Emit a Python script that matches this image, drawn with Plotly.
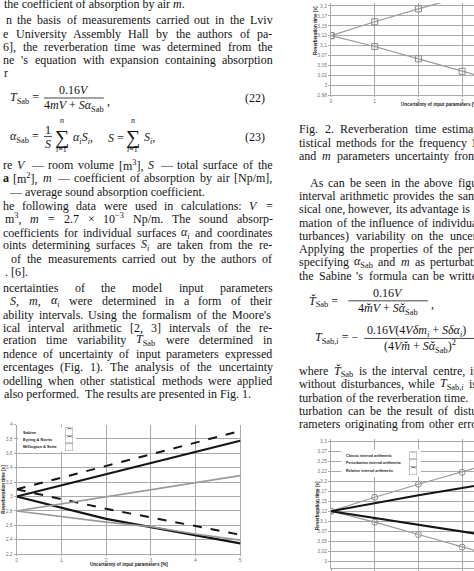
import re
import plotly.graph_objects as go

W, H = 474, 571
SERIF = "Liberation Serif, DejaVu Serif, serif"
SANS = "Liberation Sans, Arial, sans-serif"
FS = 12

# Fig. 1 - reverberation time vs uncertainty, three formulas
f1_unc = [0, 1, 2, 3, 4, 5]
sabine_hi = [3.10, 3.26, 3.42, 3.585, 3.75, 3.91]
sabine_lo = [3.10, 2.96, 2.83, 2.71, 2.59, 2.47]
eyring_hi = [3.00, 3.155, 3.31, 3.465, 3.62, 3.775]
eyring_lo = [3.00, 2.84, 2.69, 2.575, 2.46, 2.35]
millington_hi = [2.80, 2.90, 2.995, 3.09, 3.19, 3.29]
millington_lo = [2.80, 2.72, 2.645, 2.58, 2.48, 2.395]
f1_xticks = [0, 1, 2, 3, 4, 5]
f1_yticks = [2.2, 2.4, 2.6, 2.8, 3.0, 3.2, 3.4, 3.6, 3.8, 4.0]
f1_ylabels = ["2,2", "2,4", "2,6", "2,8", "3", "3,2", "3,4", "3,6", "3,8", "4"]

# Fig. 2 and Fig. 3 - interval arithmetic
f23_unc = [0, 1, 2, 3, 4]
classic_hi = [3.125, 3.16, 3.1925, 3.2225, 3.255]
classic_lo = [3.125, 3.0975, 3.0665, 3.035, 3.005]
relative_hi = [3.125, 3.145, 3.165, 3.183, 3.201]
relative_lo = [3.125, 3.108, 3.091, 3.074, 3.057]
f23_xticks = [0, 1, 2, 3]
f2_yticks = [2.975, 3.0, 3.025, 3.05, 3.075, 3.1, 3.125, 3.15, 3.175, 3.2]
f2_ylabels = ["2,98", "3", "3,02", "3,05", "3,07", "3,1", "3,12", "3,15", "3,17", "3,2"]
f3_yticks = [3.0, 3.025, 3.05, 3.075, 3.1, 3.125, 3.15, 3.175, 3.2, 3.225, 3.25, 3.275, 3.3]
f3_ylabels = ["3", "3,02", "3,05", "3,07", "3,1", "3,12", "3,15", "3,17", "3,2",
              "3,22", "3,25", "3,27", "3,3"]


def px(x):
    return x / W


def py(y):
    return 1 - y / H


# rough Times widths (1/1000 em), used to justify the text lines
TIMES_W = dict(zip("abcdefghijklmnopqrstuvwxyz",
                   [444, 500, 444, 500, 444, 333, 500, 500, 278, 278, 500, 278, 778,
                    500, 500, 500, 500, 333, 389, 278, 500, 500, 722, 500, 500, 444]))
TIMES_W.update(zip("ABCDEFGHIJKLMNOPQRSTUVWXYZ",
                   [722, 667, 667, 722, 611, 556, 722, 722, 333, 389, 722, 611, 889,
                    722, 722, 556, 722, 667, 556, 611, 722, 722, 944, 722, 722, 611]))
TIMES_W.update({c: 500 for c in "0123456789"})
TIMES_W.update({" ": 250, ",": 250, ".": 250, ":": 278, ";": 278, "-": 333, "(": 333,
                ")": 333, "[": 333, "]": 333, "'": 333, "/": 278, "=": 564, "+": 564,
                "×": 564, "−": 564, "—": 1000, "α": 520, "%": 833, "&": 778})


def text_width(s, size):
    w = 0.0
    scale = 1.0
    for part in re.split(r"(<[^>]+>)", s):
        if part.startswith("<"):
            if part.strip("</>") in ("sub", "sup"):
                scale = 1.0 if part.startswith("</") else 0.7
            continue
        for ch in part:
            if ch != "\u0306":
                w += TIMES_W.get(ch, 500) * scale
    return w * size / 1000


grid = "#a9a9a9"
tickfont = dict(family=SANS, size=5, color="#777")


def axis(domain, rng, vals, text, anchor, labels=True, ticklen=2):
    return dict(domain=domain, range=rng, tickvals=vals, ticktext=text,
                anchor=anchor, showgrid=True, gridcolor=grid, gridwidth=1,
                showline=True, linecolor=grid, linewidth=1, zeroline=False,
                ticks="outside", ticklen=ticklen, tickcolor=grid, tickfont=tickfont,
                showticklabels=labels, fixedrange=True)


fig = go.Figure()

# Fig. 1
black = "#151515"
gray = "#9a9a9a"
fig.add_trace(go.Scatter(x=f1_unc, y=sabine_hi, mode="lines", line=dict(color=black, width=2, dash="dash"), xaxis="x", yaxis="y"))
fig.add_trace(go.Scatter(x=f1_unc, y=sabine_lo, mode="lines", line=dict(color=black, width=2, dash="dash"), xaxis="x", yaxis="y"))
fig.add_trace(go.Scatter(x=f1_unc, y=eyring_hi, mode="lines", line=dict(color=black, width=2.2), xaxis="x", yaxis="y"))
fig.add_trace(go.Scatter(x=f1_unc, y=eyring_lo, mode="lines", line=dict(color=black, width=2.2), xaxis="x", yaxis="y"))
fig.add_trace(go.Scatter(x=f1_unc, y=millington_hi, mode="lines", line=dict(color=gray, width=1.6), xaxis="x", yaxis="y"))
fig.add_trace(go.Scatter(x=f1_unc, y=millington_lo, mode="lines", line=dict(color=gray, width=1.6), xaxis="x", yaxis="y"))

# Fig. 2
for ys in (classic_hi, classic_lo):
    fig.add_trace(go.Scatter(x=f23_unc, y=ys, mode="lines+markers",
                             line=dict(color=gray, width=1.2),
                             marker=dict(symbol="square-open", size=6, color="#8a8a8a", line=dict(width=1)),
                             xaxis="x2", yaxis="y2"))

# Fig. 3
for ys in (classic_hi, classic_lo):
    fig.add_trace(go.Scatter(x=f23_unc, y=ys, mode="lines+markers",
                             line=dict(color=gray, width=1.2),
                             marker=dict(symbol="circle-open", size=6, color="#8a8a8a", line=dict(width=1)),
                             xaxis="x3", yaxis="y3"))
for ys in (relative_hi, relative_lo):
    fig.add_trace(go.Scatter(x=f23_unc, y=ys, mode="lines",
                             line=dict(color=black, width=2),
                             xaxis="x3", yaxis="y3"))

f1_x0, f1_x1 = 15.7, 241
f23_x0 = 330.7
fig.update_layout(
    xaxis=axis([px(f1_x0), px(f1_x1)], [0, (f1_x1 - f1_x0) / 44.8], f1_xticks,
               [str(t) for t in f1_xticks], "y", ticklen=1),
    yaxis=axis([py(557), py(426)], [2.2, 4.0], f1_yticks, f1_ylabels, "x"),
    xaxis2=axis([px(f23_x0), 1], [0, (W - f23_x0) / 43.8], f23_xticks,
                [str(t) for t in f23_xticks], "y2", ticklen=1),
    yaxis2=axis([py(93), 1], [2.975, 3.2075], f2_yticks, f2_ylabels, "x2"),
    xaxis3=axis([px(f23_x0), 1], [0, (W - f23_x0) / 43.8], f23_xticks,
                [str(t) for t in f23_xticks], "y3", labels=False),
    yaxis3=axis([0, py(441)], [2.9826, 3.305], f3_yticks, f3_ylabels, "x3"),
)

ann = []
shapes = []


def txt(x, y, s, anchor="left", size=FS, family=SERIF, color="#141414", **kw):
    ann.append(dict(x=px(x), y=py(y), xref="paper", yref="paper", text=s,
                    showarrow=False, xanchor=anchor, yanchor="middle",
                    font=dict(family=family, size=size, color=color), **kw))


def justify(x0, x1, y, s):
    words = s.split()
    widths = [text_width(w, FS) for w in words]
    gap = (x1 - x0 - sum(widths)) / max(len(words) - 1, 1)
    x = x0
    for w, wd in zip(words, widths):
        txt(x, y, w, borderpad=0)
        x += wd + gap


def bar(x0, x1, y):
    shapes.append(dict(type="line", xref="paper", yref="paper", x0=px(x0), x1=px(x1),
                       y0=py(y), y1=py(y), line=dict(color="#141414", width=0.8)))


COL_R = 271
# left column: justified lines
left_just = [
    (4, 17, "n the basis of measurements carried out in the Lviv"),
    (1, 31, "e University Assembly Hall by the authors of pa-"),
    (1, 44, "6], the reverberation time was determined from the"),
    (1, 58, "ne 's equation with expansion containing absorption"),
    (1, 164, "re <i>V</i> — room volume [m<sup>3</sup>], <i>S</i> — total surface of the"),
    (1, 177, "<b>a</b> [m<sup>2</sup>], <i>m</i> — coefficient of absorption by air [Np/m],"),
    (1, 205, "he following data were used in calculations: <i>V</i> ="),
    (3, 218, "m<sup>3</sup>, <i>m</i> = 2.7 × 10<sup>−3</sup> Np/m. The sound absorp-"),
    (1, 232, "coefficients for individual surfaces <i>α<sub>i</sub></i> and coordinates"),
    (1, 245, "oints determining surfaces <i>S<sub>i</sub></i> are taken from the re-"),
    (9, 259, "of the measurements carried out by the authors of"),
    (1, 288, "ncertainties of the model input parameters"),
    (8, 301, "<i>S</i>, <i>m</i>, <i>α<sub>i</sub></i> were determined in a form of their"),
    (1, 315, "ability intervals. Using the formalism of the Moore's"),
    (1, 328, "ical interval arithmetic [2, 3] intervals of the re-"),
    (1, 341, "eration time variability <i>T</i><sub>Sab</sub> were determined in"),
    (1, 355, "ndence of uncertainty of input parameters expressed"),
    (1, 368, "ercentages (Fig. 1). The analysis of the uncertainty"),
    (1, 382, "odelling when other statistical methods were applied"),
]
for x, y, s in left_just:
    justify(x, COL_R, y, s)

# left column: paragraph ends
left_free = [
    (1, 1, "the coefficient of absorption by air <i>m</i>."),
    (1, 71, "r"),
    (6, 191, "— average sound absorption coefficient."),
    (2, 272, ". [6]."),
    (1, 395, "also performed.  The results are presented in Fig. 1."),
]
for x, y, s in left_free:
    txt(x, y, s)

# eq. (22)
txt(40, 96, "<i>T</i><sub>Sab</sub> =", anchor="right")
txt(73, 88, "0.16<i>V</i>", anchor="center")
bar(43, 103, 96)
txt(73, 104, "4<i>mV</i> + <i>Sα</i><sub>Sab</sub>", anchor="center")
txt(104, 99, ",")
txt(255, 96, "(22)", anchor="center")

# eq. (23)
txt(40, 135, "<i>α</i><sub>Sab</sub> =", anchor="right")
txt(47, 128, "1", anchor="center")
bar(43, 51, 135)
txt(47, 142, "<i>S</i>", anchor="center")
txt(61, 136, "∑", anchor="center", size=20)
txt(61, 119, "<i>n</i>", anchor="center", size=8)
txt(61, 148, "<i>i</i>=1", anchor="center", size=8)
txt(70, 136, "<i>α<sub>i</sub>S<sub>i</sub></i>,")
txt(105, 136, "<i>S</i> =")
txt(132, 136, "∑", anchor="center", size=20)
txt(132, 119, "<i>n</i>", anchor="center", size=8)
txt(132, 148, "<i>i</i>=1", anchor="center", size=8)
txt(141, 136, "<i>S<sub>i</sub></i>,")
txt(255, 135, "(23)", anchor="center")

# right column: lines run past the page edge, stretched so the cut matches
EDGE = 476
right_cut = [
    (298, 127, "Fig. 2. Reverberation time estimat"),
    (298, 141, "tistical methods for the frequency 1"),
    (298, 155, "and <i>m</i> parameters uncertainty from"),
    (309, 182, "As can be seen in the above figu"),
    (298, 195, "interval arithmetic provides the sam"),
    (298, 208, "sical one, however, its advantage is t"),
    (298, 222, "mation of the influence of individua"),
    (298, 235, "turbances) variability on the uncer"),
    (298, 249, "Applying the properties of the pert"),
    (298, 262, "specifying <i>α</i><sub>Sab</sub> and <i>m</i> as perturbati"),
    (298, 276, "the Sabine 's formula can be writte"),
    (298, 372, "where <i>T̆</i><sub>Sab</sub> is the interval centre, it"),
    (298, 385, "without disturbances, while <i>T</i><sub>Sab,<i>i</i></sub> is"),
    (298, 412, "turbation can be the result of distu"),
    (298, 425, "rameters originating from other erro"),
]
for x, y, s in right_cut:
    justify(x, EDGE, y, s)
justify(298, 467, 399, "turbation of the reverberation time.")

# breve equations
txt(340, 301, "<i>T̆</i><sub>Sab</sub> =", anchor="right")
txt(388, 293, "0.16<i>V</i>", anchor="center")
bar(348, 428, 301)
txt(388, 309, "4<i>m̆V</i> + <i>Sᾰ</i><sub>Sab</sub>", anchor="center")
txt(429, 304, ",")
txt(360, 339, "<i>T</i><sub>Sab,<i>i</i></sub> = −", anchor="right")
txt(365, 331, "0.16<i>V</i>(4<i>Vδm<sub>i</sub></i> + <i>Sδα<sub>i</sub></i>)")
bar(364, 490, 339)
txt(420, 347, "(4<i>Vm̆</i> + <i>Sᾰ</i><sub>Sab</sub>)<sup>2</sup>", anchor="center")

# chart titles and legends
lab = dict(family=SANS, color="#222")
txt(128, 567, "<b>Uncertainty of input parameters [%]</b>", anchor="center", size=4.6, **lab)
txt(440, 103, "<b>Uncertainty of input parameters [%]</b>", anchor="center", size=4.6, **lab)
txt(3, 491, "<b>Reverberation time [s]</b>", anchor="center", size=4.6, textangle=-90, **lab)
txt(315, 28, "<b>Reverberation time [s]</b>", anchor="center", size=4.6, textangle=-90, **lab)
txt(317, 508, "<b>Reverberation time [s]</b>", anchor="center", size=4.6, textangle=-90, **lab)

shapes.append(dict(type="rect", xref="paper", yref="paper", x0=px(17), x1=px(75),
                   y0=py(453), y1=py(429), fillcolor="white", line=dict(width=0), layer="above"))
shapes.append(dict(type="rect", xref="paper", yref="paper", x0=px(341), x1=px(421),
                   y0=py(479), y1=py(451), fillcolor="white", line=dict(width=0), layer="above"))

for name, y, col in [("Sabine", 434, black), ("Eyring & Norris", 441.5, black),
                     ("Millington & Sette", 448.5, gray)]:
    txt(20, y, "<b>" + name + "</b>", size=4, **lab)
    txt(68, y - 0.5, "⌒", anchor="center", size=7, family="DejaVu Sans", color=col,
        bordercolor="#aaa", borderwidth=0.6, borderpad=0)

for name, y, col in [("Classic interval arithmetic", 457.5, gray),
                     ("Perturbation interval arithmetic", 465.3, "#bbb"),
                     ("Relative interval arithmetic", 473, black)]:
    txt(344, y, "<b>" + name + "</b>", size=3.7, **lab)
    txt(413, y - 0.5, "⌒", anchor="center", size=7, family="DejaVu Sans", color=col,
        bordercolor="#aaa", borderwidth=0.6, borderpad=0)

fig.update_layout(
    width=W, height=H, autosize=False,
    margin=dict(l=0, r=0, t=0, b=0),
    paper_bgcolor="white", plot_bgcolor="white",
    showlegend=False,
    annotations=ann, shapes=shapes,
)

fig.write_html("out.html", config={"displayModeBar": False},
               post_script="document.body.style.margin = '0';")
